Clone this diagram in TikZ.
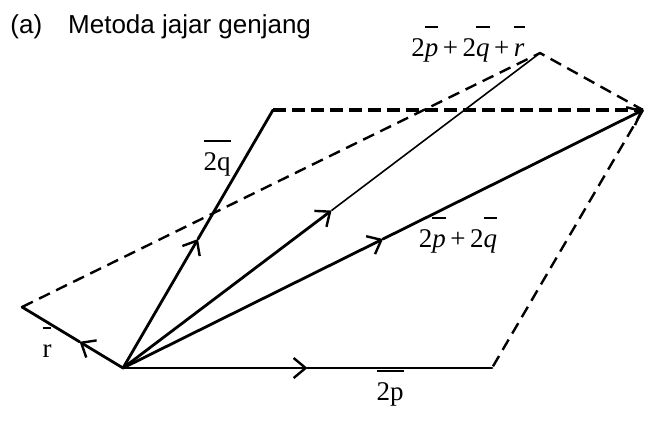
\documentclass[tikz,border=0pt]{standalone}
\usepackage{fontspec}
\setmainfont{Liberation Serif}
\newfontfamily\titlefont{Liberation Sans}
\usetikzlibrary{arrows.meta, calc}
\newcommand{\bv}[1]{\setbox0=\hbox{#1}\rlap{\raisebox{1.05em}{\rule{\wd0}{0.6pt}}}\box0}
\tikzstyle{vec} = [line width=1.4pt, line cap=round]
\tikzstyle{half} = [vec, -{Straight Barb[length=6pt,width=10pt,line width=1.2pt]}]
\tikzstyle{guide} = [line width=1.2pt, dash pattern=on 6pt off 3.5pt]
\tikzstyle{guidebold} = [line width=2.2pt, dash pattern=on 6.5pt off 3pt]
\tikzstyle{lbl} = [anchor=base, inner sep=0pt, font=\fontsize{13.5}{16}\selectfont]

\begin{document}
\begin{tikzpicture}
				[x=0.5pt, y=-0.5pt]
				\useasboundingbox (0,0) rectangle (662,420);

				\node (title) [anchor=base west, inner sep=0pt, font=\titlefont\fontsize{13}{15}\selectfont] at (10,33) {(a)\quad Metoda jajar genjang};

				\coordinate (O) at (123,368);
				\coordinate (P) at (492,368);
				\coordinate (Q) at (273,110);
				\coordinate (S) at (643,110);
				\coordinate (R) at (22,307);
				\coordinate (T) at (540,53);

				\coordinate (Pm) at ($(O)!0.5!(P)$);
				\coordinate (Qm) at ($(O)!0.5!(Q)$);
				\coordinate (Rm) at ($(O)!0.43!(R)$);
				\coordinate (Sm) at ($(O)!0.5!(S)$);
				\coordinate (Tm) at ($(O)!0.5!(T)$);

				\draw [guide] (R) -- (T) -- (S);
				\draw [guidebold] (Q) -- (S);
				\draw [guide] (S) -- (P);

				\draw [half] (O) -- (Pm);
				\draw [vec] (Pm) -- (P);
				\draw [half] (O) -- (Qm);
				\draw [vec] (Qm) -- (Q);
				\draw [half] (O) -- (Rm);
				\draw [vec] (Rm) -- (R);
				\draw [half] (O) -- (Sm);
				\draw [half] (Sm) -- (S);
				\draw [half] (O) -- (Tm);
				\draw [line width=0.8pt] (Tm) -- (T);

				\node (lp) [lbl] at (390,400) {\bv{2p}};
				\node (lq) [lbl] at (217,170) {\bv{2q}};
				\node (lr) [lbl] at (47,357) {\bv{r}};
				\node (lpq) [lbl] at (458,247) {2\bv{\textit{p}}\,+\,2\bv{\textit{q}}};
				\node (lpqr) [lbl] at (468,56) {2\bv{\textit{p}}\,+\,2\bv{\textit{q}}\,+\,\bv{\textit{r}}};
			\end{tikzpicture}
\end{document}
